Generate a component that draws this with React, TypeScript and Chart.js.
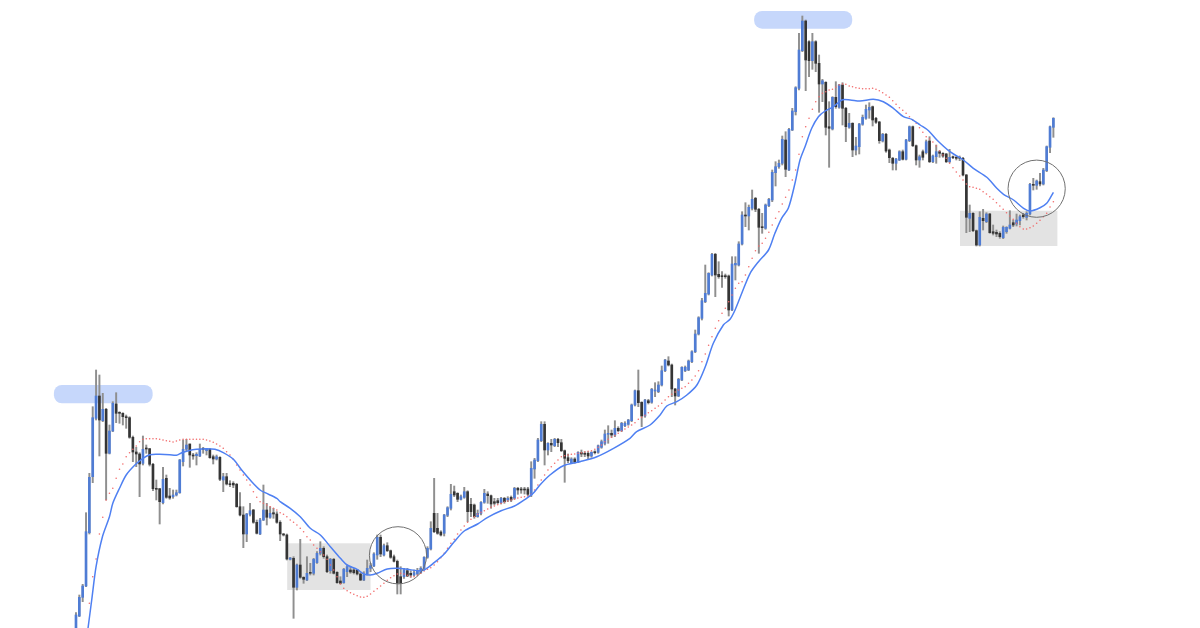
import { useEffect, useRef } from "react";
import { Chart, registerables } from "chart.js";

Chart.register(...registerables);

// Candles, oldest first. Prices are read off the picture (the chart has no axis).
const opens = [
  0,12,30.7,42,95.3,151.3,209.7,232,207.3,218.7,
  174.7,197,224,215.3,214.7,211.3,210.3,190.7,176,174,
  164.7,179.7,179.3,163.7,139.3,139.3,125.3,149.7,132,131.3,
  133,135.3,166.3,178.7,184,173,172.3,172,179.3,177.3,
  178.7,171.3,169,170.7,148,151.3,144,144.7,143.7,121.3,
  113,94,113.7,118,105.7,94,108,118,110.7,115.3,
  114,105.7,94,93,68.7,69.7,40.7,63,50.7,48,
  55.3,54.7,65.3,74.7,79.7,71.3,57.3,68.7,55.7,47,
  45.3,56.3,58,58,58,54,48,54,59.7,62,
  73,90.7,73,82.3,77.3,71.3,66.7,51.3,51.3,57.3,
  54.7,53,54,55.3,59.7,70.7,79,114.7,99.7,96,
  94.7,112.7,119.7,136.3,134.7,128.7,130.7,136.3,123.7,123,
  111.3,114.7,125.7,134,132.3,126.3,127.3,125.3,129.7,128,
  130.7,129.7,139.7,138.7,139,139,133,159,167.3,187.3,
  203.7,178,184.7,182.3,188.7,185.3,177.3,170.3,165.3,169,
  166.3,175.3,174.7,174.7,172,176.3,175.7,180.7,184.7,193.7,
  194.7,193,199.7,197.3,202.3,203.7,207.3,223,237.3,225.7,
  212,227.3,225.7,237,236.3,243,257.3,267,263,239,
  232,248,257.3,258,266.3,276.3,294,309.7,326.3,334,
  353,373.7,353.7,352.3,352.3,352,318,363,363,384,
  413,412,419.7,429.7,418.7,401.3,399.7,422.3,428,455.3,
  461.3,464.7,488,458,498,516.3,539.7,577.3,607,586.3,
  567.3,586.3,564.7,544,545.7,501.3,499,530.7,520.7,543,
  519.7,500.7,504.7,478,481.3,503.7,509.7,518,521.3,509.7,
  506,487,493.7,478,469.7,464.7,468,476.3,468.7,487.3,
  501.3,482.3,468,476.3,475.3,487,466.3,471.3,476.3,474.7,
  474,466.3,471.3,470.7,470.7,469.7,453,409.7,414.7,397.3,
  383,409.7,406.3,414,396.3,395.7,394.7,390.3,396.3,399.7,
  405.3,404,407.3,413,410.7,414,443.7,442.7,446.3,444,
  457.3,480.7,500.7,
];
const closes = [
  13,30.7,42,96.3,150.7,210.3,232,208,218.7,174.7,
  197,224.7,214.7,214.7,211.3,210.3,190.7,176,174,164,
  178.7,179,163.7,139.3,138.7,126.3,148.7,130.7,130,133,
  135.3,168,178.7,183,173,172,173.7,178.7,178.7,178.7,
  170.3,169,171.3,148.7,151.3,144,143.3,143,121.3,113,
  94,114,117.3,105.7,94.7,108,118,110.7,114.7,114,
  105.7,94,93,69,70,40.7,63,50.7,48.7,54.7,
  54.7,68.7,74.7,79.7,71.3,56.3,68.7,54.7,45.3,44.7,
  58.7,61.3,56,55.3,54,48,53,59.7,62.3,74,
  90.7,74,82.3,77.3,70.7,66.7,44.7,44.7,58,52,
  53,55.3,57.3,59.7,70.7,79.7,99.7,96.3,94.7,93,
  113,120.3,133.7,133,128.7,131.3,136.3,116.3,116.3,111.3,
  114.7,125.7,134.7,132.3,124,124.7,125.3,129.7,126.3,129.7,
  128,139.7,138,138,138,133.7,159.7,168,188,203.7,
  178,184.7,183,188.7,185.3,177.3,169.7,167.3,169,165.7,
  175.7,174,173.7,172,175.7,175.3,182.3,186.3,194,194.7,
  193,199.7,197.3,204.7,204.7,208,223,237.3,225.3,212,
  228,225.3,238.7,238,243,257.3,268,263,239,232,
  248.7,260.7,260.7,267,276.3,294,310.3,327.3,334.7,354.7,
  373.7,353,351.3,351.3,351.3,318,364,364.7,384,413,
  412,420.7,428.7,418.7,400.7,400.3,423,428.7,455.7,461.3,
  464.7,488.7,458.7,498.7,517,540.3,578,607,568,567.3,
  586.3,564.7,544,547.3,500.7,499.7,530.7,521.3,543,519.7,
  501.3,504.7,478,482,504,510.7,518.7,520.7,508,505.7,
  487.3,493.7,477,470.3,464.7,469,476.3,468.7,488,501.3,
  482.3,468,471.3,470.7,486.3,466.3,472,476.3,474.7,472,
  466.3,470.7,470.3,469.7,469.7,453,410.7,414.7,397.3,383,
  410.7,407.3,414,395.3,394.7,394,391.3,400.7,400.7,403,
  403,408,411.3,411.3,414.7,443.7,442.7,447,444,458,
  481.3,501.3,509.7,
];
const highs = [
  15.3,33,43.7,115.3,154.7,221.3,258,253,234.7,219.7,
  203,226.3,235.3,216.3,215.3,213,211.3,192,180.7,175.3,
  192,183,179.7,164.7,148,139.7,160.7,153,139.7,138,
  138,168.7,188,188.7,184,174.7,175.3,184,180.7,179.7,
  179.7,173,173,171.3,154.7,154.7,147.3,146.3,144.7,135.3,
  121.3,114.7,124.7,118.7,108,109.7,143,124.7,121.3,119.7,
  116.3,107.3,94.7,94,70.7,71.3,64,88.7,51.3,71.3,
  64.7,69.7,76.3,86.3,81.3,73,69.7,69.7,56.3,51.3,
  59.7,63,61.3,59.7,58.7,55.3,56.3,68,64.7,75.3,
  93,93,84,85.3,78,73,68,61.3,59.7,59.7,
  57.3,58,59.7,61.3,71.3,81.3,106.3,149.7,114.7,97.3,
  113.7,121.3,143.7,142,135.3,133,140.7,137.3,129.7,124,
  118,126.3,138.7,136.3,133,129.7,129.7,130.7,130.7,131.3,
  132,140.7,140.7,140.7,140.7,140.7,166.3,169.7,189.7,206.3,
  206.3,185.3,188.7,189.7,189.7,188.7,178,174,170.3,170.3,
  176.3,178,176.3,176.3,176.3,177.3,183,188,198,202.3,
  198,207.3,201.3,205.7,206.3,208.7,224,238,258,226.3,
  228.7,228.7,239.7,245.3,246.3,262,268.7,271.3,264,239.7,
  249.7,261.3,262,268,277.3,298,311.3,329.7,363,355.3,
  374.7,374.7,366.3,356.3,354,353,371.3,371.3,386.3,416.3,
  425.3,423,438,430.7,419.7,414.7,424,429.7,458,466.3,
  468,492,496.3,499.7,519.7,541.3,594.7,612,608,587.3,
  594.7,587.3,573,548.7,546.3,526.3,531.3,546.3,543.7,545.3,
  520.7,514.7,505.3,490.7,504.7,513,523,525.3,522,510.7,
  506.7,494.7,494.7,479,470.7,469.7,477.3,478,488.7,502,
  502,483,473,478,488,491.3,473,483,477.3,475.3,
  474.7,478.7,472,472,472,470.7,453.7,423,415.3,398,
  416.3,418.7,415.3,414.7,403,398,396.3,402,401.3,417.3,
  408,414,413,414.7,416.3,444.7,449.7,448,454.7,459.7,
  482,502,510.3,
];
const lows = [
  0,11.3,26.3,41.3,94,145.3,208,172,206.3,128,
  174,196.3,205.3,204.7,203,199.7,189.7,166.3,161.3,131.3,
  163,174.7,162,137.3,128,104,124,129.7,128.7,129.7,
  132,134.7,162,177.3,160.7,168.7,163,171.3,174.7,173,
  169.7,164,168,147.3,136.3,143,141.3,140.3,120.7,112,
  80.3,86.3,112,104.7,94,93.3,107.3,103,109.7,109.7,
  104.7,87.3,92,68,68,9.7,38,49.7,44.7,47.3,
  53,53,64.7,73,69.7,55.3,54.7,54,44.7,44,
  44.7,51.3,54.7,54,53,47.3,47.3,53,56.3,61.3,
  68.7,71.3,72,76.3,69.7,66,34,34,49.7,51.3,
  50.7,52,53,54.7,58,69.7,78,95.3,93.7,92,
  92,111.3,118,131.3,126.3,128,129.7,106.3,111.3,109.7,
  110.7,113,124.7,124.7,119.7,123,124,124,124.7,126.3,
  126.3,128.7,133.7,134.7,134,132,131.3,149.7,166.3,186.3,
  163,173,176.3,181.3,181.3,176.3,145.7,165.3,164.7,164.7,
  165.3,171.3,171.3,168.7,170.7,174,174.7,179.7,183,184.7,
  190.7,191.3,196.3,196.3,201.3,202.7,206.3,222,221.3,201.3,
  210.7,224,224.7,231.3,235.3,242,256.3,262,231.3,223,
  231.3,247.3,256.3,257.3,265.3,275.3,293,308,325.3,333,
  352,331.3,349.7,340.7,349.7,312,317.3,348,362,383,
  401.3,398,418,416.3,374.7,394.7,398.7,421.3,426.3,442,
  459.7,463,451.3,457.3,497.3,513,538,576.3,537.3,551.3,
  558.7,556.3,515.7,526.3,493,460.7,498,519.7,519.7,503,
  486.3,499.7,471.3,473,474,502.7,508.7,509.7,502,504.7,
  484.7,486,475.7,465.3,458,458,467.3,468,468,486.3,
  481.3,463,460.7,468,474,465.3,465.3,464.7,470.7,470.7,
  465.3,465.3,469.3,468,467.3,452,395.3,396.3,396.3,382,
  382,398,405.3,394.7,393,391.3,389.7,389.3,394.7,399,
  401.3,402,403,409.7,408,413,438,438.7,442,443,
  456.3,475.3,490.7,
];

// Blue moving average, read at these candle positions.
const avgAt = [
  3.6,4.7,6,7.9,10,11,13,15,17.6,20,22,25,28,30,31.6,33.6,36,39,41.5,44,
  47,49.5,52.5,55,56.5,60,61,64,67,70,73,76,79,81,84,86,88,90,93,96,
  99,102,104,107,110,113,116,120,123,127,131,134.6,136.6,138.6,141.6,145.6,150.6,155.6,160.6,165.5,
  167.5,171.5,174.5,176.5,179.5,182.5,185.5,188,190.4,193.4,195.4,196.9,198.9,201.4,203.9,206.9,208.8,210.8,212.8,214.8,
  216.3,217.8,219.8,221.8,223.8,226.3,228.8,231.3,234.2,238.2,241.2,244.2,247.2,249.7,252.2,254.7,257.2,261.1,265.1,268.1,
  272.1,275.1,277.1,280.1,283.1,285.1,288,290,292,
];
const avgValues = [
  0,28,61.3,91.3,111.3,124.7,139.7,153,163,169.7,173.3,173.7,173.3,172.7,175.3,177.3,178.7,179.3,178.7,175.3,
  168.7,158,146.3,138,135.3,129.7,126.3,119.7,111.3,99.7,93,81.3,69.7,63,58.7,54,53,54.7,59,59.7,
  58.7,57.3,58,65.3,74,86.3,97,104,110.7,117.3,122,129.7,134.7,143,153,162.3,166.3,171.3,179.7,189.7,
  196.3,203,213,222,226.3,233,243,261.3,284.7,303,308.7,318,334.7,354.7,366.3,378,394.7,409.7,419.7,444.7,
  468,481.3,499.7,511.3,517,521.3,528,528,527,528.7,526.3,519.7,511.3,508.7,503,497.3,488,476.3,468,459.7,
  450.7,439.7,433.7,428,419.7,417,420.3,424.7,435.7,
];

// Red dotted line, one dot per candle from the fifth candle on.
const dotsFrom = 4;
const dots = [
  24.7,51.3,69,94,110.7,128,134.7,139.7,149.7,158.7,164,171.3,175.3,178.7,182,186.3,
  188.7,189.3,189.3,189.3,189.3,188.7,188,187.3,186.7,186,187,188,188.7,188.7,188.7,188.7,188.7,188.7,188.7,
  188,187,185.7,184,182,179.7,176.3,173,168.7,163,158,153,148,143,136.3,130.7,126.3,124.7,123,121.3,119.7,
  118,115.3,113.7,111.3,108,105.7,103,99.7,96.3,91.3,88,83,79.7,76.3,73,68.7,63,58,51.3,44,39.7,37.3,35.3,
  33.7,32.3,31,30.7,31.7,34,36.7,39.3,42,44.7,47.7,50.3,52.3,54,54.7,54,52.7,51.3,51.3,52.7,54.7,57,58.7,
  60.3,63,66.3,70.3,74.7,79.7,84.7,88.7,94,98,102,105.7,108.7,111.3,113.7,115.7,117.3,119,120.7,122,123.3,
  124.7,126,127,128,129,130,130.7,131.3,132,133.7,138,143,148,153,158,161.3,164.7,168,171.3,172.3,173,173.7,
  174,174.7,175.3,176,176.7,177.3,178.7,180.7,183,186.3,188.7,190.7,192.7,194.7,197,199,201,203,205.3,208.7,
  210.7,212.7,215.3,217.3,219.7,222,224.7,228,231.3,233.7,236,238,239.7,241.3,244.7,248,252,257.3,266.3,274,
  282.7,291.3,299.7,307.3,314.7,319.7,326.3,333,339.7,344.7,346.3,353,361.3,369.7,377.3,382,384.7,389.7,395.7,
  403,409.7,416.3,424,430.7,438,448,458,473.7,491.3,501.3,509.7,518.7,526.3,531.3,534.7,536.3,538,538.7,540.7,
  543,544,543.7,542,541.3,540.3,539.7,539.3,539.3,539.3,539.7,538.7,537.3,535.3,533,530.7,527.3,523.7,520.3,
  517.7,514.7,511.3,508,504.7,500.3,495.7,491.3,489,486,482,477.3,473,469.7,464.7,460.3,456,452,448,444,441.3,
  440.7,439.7,438.7,436.3,434,431.3,428.7,425.3,422,418.7,415.3,412,408.7,404.7,401.3,399,399,400.3,402,404.7,
  407.7,411.3,414.7,421,426.3,
];

// Hand-drawn marks on top of the chart, in candle position / price.
const peakLabels = [
  { from: -6.6, to: 22.9, top: 243, bottom: 224.7 },
  { from: 202.6, to: 231.9, top: 617, bottom: 599.3 },
];
const zones = [
  { from: 63.1, to: 88, top: 84.7, bottom: 38 },
  { from: 264.1, to: 293.2, top: 417.3, bottom: 382 },
];
const rings = [
  { at: 96.2, price: 72.7 },
  { at: 287, price: 439.3 },
];

const UP = "#4f7cd4";
const DOWN = "#353535";

const marksPlugin = {
  id: "marks",
  beforeDatasetsDraw(chart: Chart) {
    const { ctx, scales } = chart;
    ctx.save();
    ctx.fillStyle = "#e3e3e3";
    for (const z of zones) {
      const x = scales.x.getPixelForValue(z.from);
      const y = scales.y.getPixelForValue(z.top);
      ctx.fillRect(x, y, scales.x.getPixelForValue(z.to) - x, scales.y.getPixelForValue(z.bottom) - y);
    }
    ctx.fillStyle = "#c6d7fb";
    for (const p of peakLabels) {
      const x = scales.x.getPixelForValue(p.from);
      const y = scales.y.getPixelForValue(p.top);
      const h = scales.y.getPixelForValue(p.bottom) - y;
      ctx.beginPath();
      ctx.roundRect(x, y, scales.x.getPixelForValue(p.to) - x, h, 8);
      ctx.fill();
    }
    ctx.restore();
  },
  afterDatasetsDraw(chart: Chart) {
    const { ctx, scales } = chart;
    ctx.save();
    ctx.strokeStyle = "#707070";
    ctx.lineWidth = 1;
    for (const r of rings) {
      ctx.beginPath();
      ctx.arc(scales.x.getPixelForValue(r.at), scales.y.getPixelForValue(r.price), 28.6, 0, Math.PI * 2);
      ctx.stroke();
    }
    ctx.restore();
  },
};

function CandleChart() {
  const canvasRef = useRef<HTMLCanvasElement>(null);

  useEffect(() => {
    const canvas = canvasRef.current;
    if (!canvas) return;
    const colors = opens.map((o, i) => (closes[i] >= o ? UP : DOWN));
    const chart = new Chart(canvas, {
      type: "bar",
      data: {
        datasets: [
          {
            type: "line",
            data: avgAt.map((x, i) => ({ x, y: avgValues[i] })),
            borderColor: "#4f80f2",
            borderWidth: 1.5,
            pointRadius: 0,
            tension: 0.3,
            order: 0,
          },
          {
            type: "line",
            data: dots.map((y, i) => ({ x: i + dotsFrom, y })),
            showLine: false,
            pointRadius: 0.8,
            pointBorderWidth: 0,
            pointBackgroundColor: "#f26a6a",
            order: 1,
          },
          {
            data: opens.map((o, i) => ({ x: i, y: [o, closes[i]] })),
            backgroundColor: colors,
            barThickness: 2,
            minBarLength: 1,
            grouped: false,
            order: 2,
          },
          {
            data: highs.map((h, i) => ({ x: i, y: [lows[i], h] })),
            backgroundColor: "#8f8f8f",
            barThickness: 1.3,
            grouped: false,
            order: 3,
          },
        ] as any,
      },
      options: {
        responsive: false,
        animation: false,
        events: [],
        // autoPadding would inset the plot by the line's overflow and shift everything
        layout: { padding: 0, autoPadding: false },
        plugins: { legend: { display: false }, tooltip: { enabled: false } },
        scales: {
          // no visible axes; the ranges place the first candle at the left like the picture
          x: { type: "linear", display: false, offset: false, min: -22.7, max: 335.8 },
          y: { type: "linear", display: false, min: 0, max: 628 },
        },
      },
      plugins: [marksPlugin],
    });
    return () => chart.destroy();
  }, []);

  return <canvas ref={canvasRef} width={1200} height={628} style={{ display: "block" }} />;
}

export default function App() {
  return (
    <div style={{ position: "fixed", left: 0, top: 0, width: 1200, height: 628, background: "#fff" }}>
      <CandleChart />
    </div>
  );
}
